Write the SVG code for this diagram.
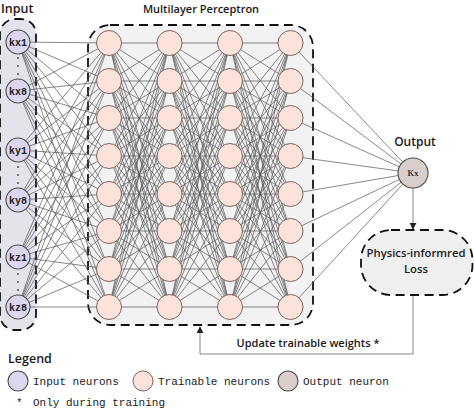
<svg xmlns="http://www.w3.org/2000/svg" xmlns:xlink="http://www.w3.org/1999/xlink" width="474" height="409" viewBox="0 0 474 409">
<style>
.lbl{font-family:"Open Sans",Roboto,"Liberation Sans",sans-serif;fill:#1a1a1a;font-weight:600}
.mono{font-family:"Liberation Mono","DejaVu Sans Mono",monospace;fill:#222}
.inp{fill:#dcd7ef;stroke:#4a4a4a;stroke-width:1.1}
.hid{fill:#fbe3db;stroke:#7a6660;stroke-width:1}
.out{fill:#d8cfcc;stroke:#4a4a4a;stroke-width:1.1}
.dash{stroke:#111;stroke-width:1.8;stroke-dasharray:9 5.5}
.mesh path{fill:none;stroke:#555;stroke-width:0.7}
.flow{fill:none;stroke:#333;stroke-width:1.2}
</style>
<defs>
<marker id="ah" viewBox="0 0 10 10" refX="9" refY="5" markerWidth="7" markerHeight="7" orient="auto-start-reverse" markerUnits="userSpaceOnUse">
<path d="M0 0L10 5L0 10z" fill="#222"/>
</marker>
<g id="mesh" class="mesh" fill="none" stroke="#555" stroke-width="0.7">
<path d="M0 43L60.5 43M0 43L60.5 81M0 43L60.5 118M0 43L60.5 156M0 43L60.5 194M0 43L60.5 231M0 43L60.5 269M0 43L60.5 307"/>
<path d="M0 81L60.5 43M0 81L60.5 81M0 81L60.5 118M0 81L60.5 156M0 81L60.5 194M0 81L60.5 231M0 81L60.5 269M0 81L60.5 307"/>
<path d="M0 118L60.5 43M0 118L60.5 81M0 118L60.5 118M0 118L60.5 156M0 118L60.5 194M0 118L60.5 231M0 118L60.5 269M0 118L60.5 307"/>
<path d="M0 156L60.5 43M0 156L60.5 81M0 156L60.5 118M0 156L60.5 156M0 156L60.5 194M0 156L60.5 231M0 156L60.5 269M0 156L60.5 307"/>
<path d="M0 194L60.5 43M0 194L60.5 81M0 194L60.5 118M0 194L60.5 156M0 194L60.5 194M0 194L60.5 231M0 194L60.5 269M0 194L60.5 307"/>
<path d="M0 231L60.5 43M0 231L60.5 81M0 231L60.5 118M0 231L60.5 156M0 231L60.5 194M0 231L60.5 231M0 231L60.5 269M0 231L60.5 307"/>
<path d="M0 269L60.5 43M0 269L60.5 81M0 269L60.5 118M0 269L60.5 156M0 269L60.5 194M0 269L60.5 231M0 269L60.5 269M0 269L60.5 307"/>
<path d="M0 307L60.5 43M0 307L60.5 81M0 307L60.5 118M0 307L60.5 156M0 307L60.5 194M0 307L60.5 231M0 307L60.5 269M0 307L60.5 307"/>
</g>
</defs>
<rect width="474" height="409" fill="#fff"/>

<g id="input-panel">
<rect x="0" y="19" width="36" height="311" rx="15" fill="#e3e3ec" class="dash"/>
<text class="lbl" x="1" y="13" font-size="12.5">Input</text>
</g>
<g id="mlp-panel">
<rect x="88" y="25" width="225" height="300" rx="22" fill="#f2f2f2" class="dash"/>
<text class="lbl" x="201" y="13" font-size="11" text-anchor="middle">Multilayer Perceptron</text>
</g>

<g id="connectors" class="mesh">
<path d="M18 42L109 43M18 42L109 81M18 42L109 118M18 42L109 156M18 42L109 194M18 42L109 231M18 42L109 269M18 42L109 307"/>
<path d="M18 91L109 43M18 91L109 81M18 91L109 118M18 91L109 156M18 91L109 194M18 91L109 231M18 91L109 269M18 91L109 307"/>
<path d="M18 150L109 43M18 150L109 81M18 150L109 118M18 150L109 156M18 150L109 194M18 150L109 231M18 150L109 269M18 150L109 307"/>
<path d="M18 200L109 43M18 200L109 81M18 200L109 118M18 200L109 156M18 200L109 194M18 200L109 231M18 200L109 269M18 200L109 307"/>
<path d="M18 257L109 43M18 257L109 81M18 257L109 118M18 257L109 156M18 257L109 194M18 257L109 231M18 257L109 269M18 257L109 307"/>
<path d="M18 307L109 43M18 307L109 81M18 307L109 118M18 307L109 156M18 307L109 194M18 307L109 231M18 307L109 269M18 307L109 307"/>
<use xlink:href="#mesh" href="#mesh" x="109"/>
<use xlink:href="#mesh" href="#mesh" x="169.5"/>
<use xlink:href="#mesh" href="#mesh" x="230"/>
<path d="M290.5 43L413 173M290.5 81L413 173M290.5 118L413 173M290.5 156L413 173M290.5 194L413 173M290.5 231L413 173M290.5 269L413 173M290.5 307L413 173"/>
<path class="flow" d="M413 188V229" marker-end="url(#ah)"/>
<path class="flow" d="M413 295V354H200V327" marker-end="url(#ah)"/>
<text class="lbl" x="308" y="347" font-size="11" text-anchor="middle">Update trainable weights *</text>
</g>

<g id="input-nodes">
<g id="kx1"><circle class="inp" cx="18" cy="42" r="12"/><text class="mono" x="18" y="45.5" font-size="10" font-weight="bold" text-anchor="middle">kx1</text></g>
<g id="kx8"><circle class="inp" cx="18" cy="91" r="12"/><text class="mono" x="18" y="94.5" font-size="10" font-weight="bold" text-anchor="middle">kx8</text></g>
<g id="ky1"><circle class="inp" cx="18" cy="150" r="12"/><text class="mono" x="18" y="153.5" font-size="10" font-weight="bold" text-anchor="middle">ky1</text></g>
<g id="ky8"><circle class="inp" cx="18" cy="200" r="12"/><text class="mono" x="18" y="203.5" font-size="10" font-weight="bold" text-anchor="middle">ky8</text></g>
<g id="kz1"><circle class="inp" cx="18" cy="257" r="12"/><text class="mono" x="18" y="260.5" font-size="10" font-weight="bold" text-anchor="middle">kz1</text></g>
<g id="kz8"><circle class="inp" cx="18" cy="307" r="12"/><text class="mono" x="18" y="310.5" font-size="10" font-weight="bold" text-anchor="middle">kz8</text></g>
<g id="ellipses" fill="#444">
<circle cx="18" cy="58" r="0.9"/><circle cx="18" cy="66" r="0.9"/><circle cx="18" cy="74" r="0.9"/>
<circle cx="18" cy="167" r="0.9"/><circle cx="18" cy="175" r="0.9"/><circle cx="18" cy="183" r="0.9"/>
<circle cx="18" cy="274" r="0.9"/><circle cx="18" cy="282" r="0.9"/><circle cx="18" cy="290" r="0.9"/>
</g>
</g>

<g id="hidden-layer-1">
<circle class="hid" cx="109" cy="43" r="12.5"/><circle class="hid" cx="109" cy="81" r="12.5"/><circle class="hid" cx="109" cy="118" r="12.5"/><circle class="hid" cx="109" cy="156" r="12.5"/><circle class="hid" cx="109" cy="194" r="12.5"/><circle class="hid" cx="109" cy="231" r="12.5"/><circle class="hid" cx="109" cy="269" r="12.5"/><circle class="hid" cx="109" cy="307" r="12.5"/>
</g>
<g id="hidden-layer-2">
<circle class="hid" cx="169.5" cy="43" r="12.5"/><circle class="hid" cx="169.5" cy="81" r="12.5"/><circle class="hid" cx="169.5" cy="118" r="12.5"/><circle class="hid" cx="169.5" cy="156" r="12.5"/><circle class="hid" cx="169.5" cy="194" r="12.5"/><circle class="hid" cx="169.5" cy="231" r="12.5"/><circle class="hid" cx="169.5" cy="269" r="12.5"/><circle class="hid" cx="169.5" cy="307" r="12.5"/>
</g>
<g id="hidden-layer-3">
<circle class="hid" cx="230" cy="43" r="12.5"/><circle class="hid" cx="230" cy="81" r="12.5"/><circle class="hid" cx="230" cy="118" r="12.5"/><circle class="hid" cx="230" cy="156" r="12.5"/><circle class="hid" cx="230" cy="194" r="12.5"/><circle class="hid" cx="230" cy="231" r="12.5"/><circle class="hid" cx="230" cy="269" r="12.5"/><circle class="hid" cx="230" cy="307" r="12.5"/>
</g>
<g id="hidden-layer-4">
<circle class="hid" cx="290.5" cy="43" r="12.5"/><circle class="hid" cx="290.5" cy="81" r="12.5"/><circle class="hid" cx="290.5" cy="118" r="12.5"/><circle class="hid" cx="290.5" cy="156" r="12.5"/><circle class="hid" cx="290.5" cy="194" r="12.5"/><circle class="hid" cx="290.5" cy="231" r="12.5"/><circle class="hid" cx="290.5" cy="269" r="12.5"/><circle class="hid" cx="290.5" cy="307" r="12.5"/>
</g>

<g id="output-node">
<text class="lbl" x="415" y="146" font-size="12" text-anchor="middle">Output</text>
<circle class="out" cx="413" cy="173" r="15"/>
<text x="413" y="176" font-size="8.5" font-weight="bold" text-anchor="middle" font-family="'Liberation Serif',serif" fill="#333">Kx</text>
</g>

<g id="loss-node">
<rect x="361" y="230" width="111.5" height="65" rx="30" fill="#efefef" class="dash"/>
<text class="lbl" x="416" y="257" font-size="11.3" text-anchor="middle">Physics-informred</text>
<text class="lbl" x="416" y="273" font-size="11.3" text-anchor="middle">Loss</text>
</g>

<g id="legend">
<text class="lbl" x="8" y="363" font-size="12.5">Legend</text>
<circle class="inp" cx="18" cy="381" r="10"/>
<text class="mono" x="33" y="385" font-size="11">Input neurons</text>
<circle class="hid" cx="143" cy="381" r="10"/>
<text class="mono" x="158" y="385" font-size="11">Trainable neurons</text>
<circle class="out" cx="288" cy="381" r="10"/>
<text class="mono" x="303" y="385" font-size="11">Output neuron</text>
<text class="mono" x="16" y="406" font-size="11">*</text>
<text class="mono" x="33" y="406" font-size="11">Only during training</text>
</g>
</svg>
